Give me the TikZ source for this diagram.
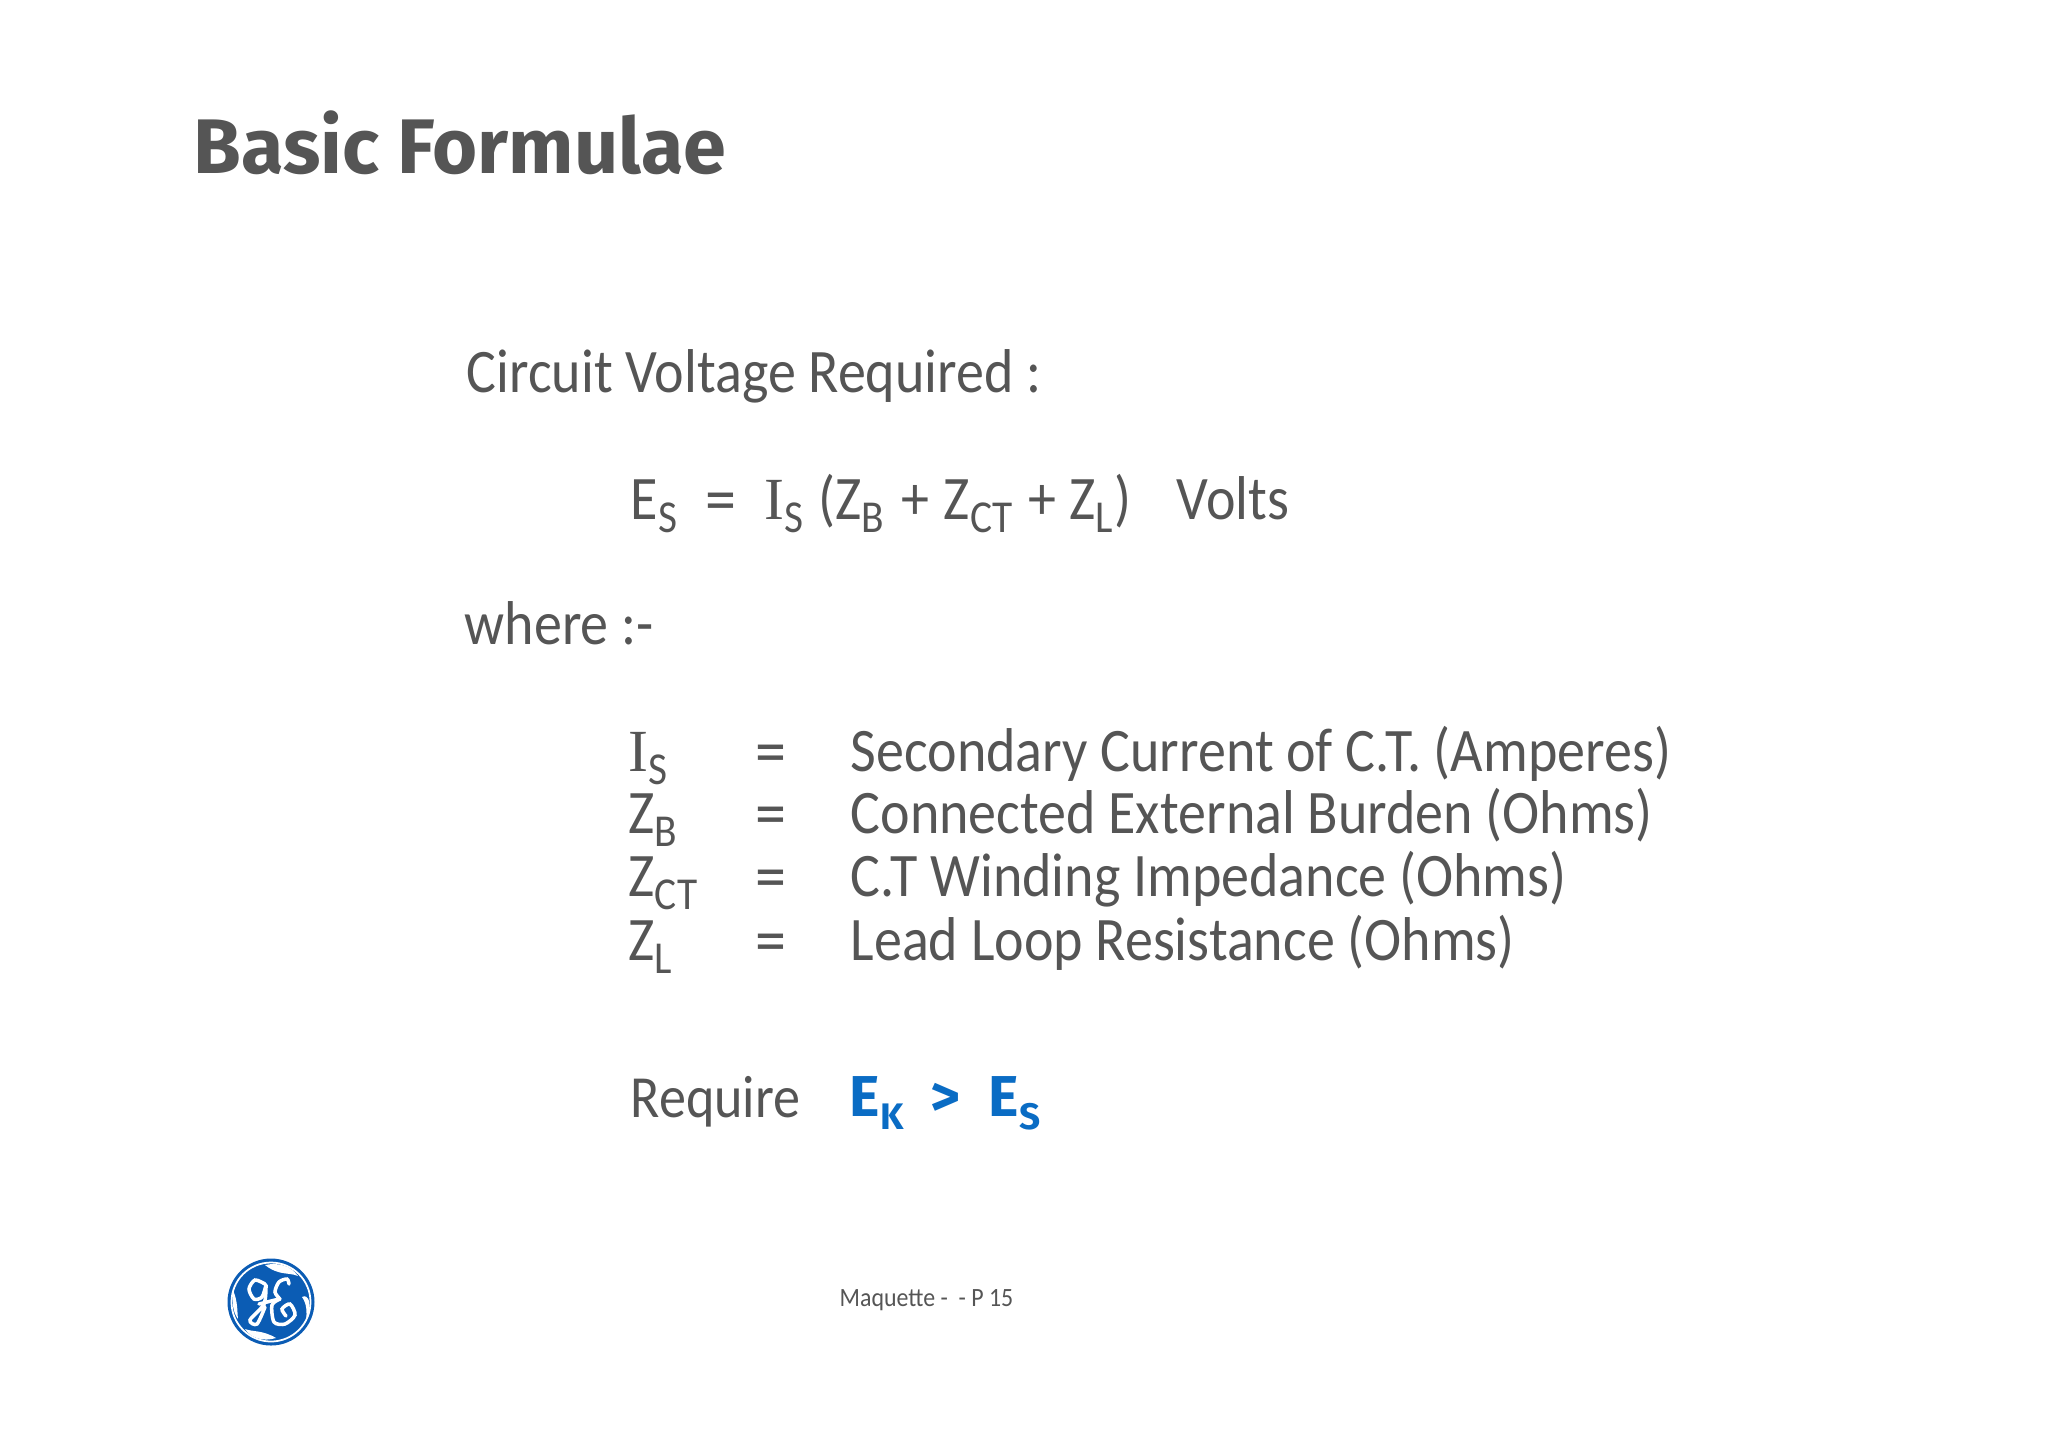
\documentclass[tikz,border=0pt]{standalone}
\usepackage{fontspec}
\setmainfont[FakeStretch=0.905]{Carlito}
\newfontfamily\titlefont{Fira Sans}
\newfontfamily\serifI{Liberation Serif}
\definecolor{slate}{HTML}{555555}
\definecolor{geblue}{HTML}{0A6CC4}
\definecolor{logoblue}{HTML}{0B5CB4}
\newcommand{\lowtext}[1]{\raisebox{-3.7pt}{\fontsize{13}{13}\selectfont #1}}
\newcommand{\lowbold}[1]{\raisebox{-3.7pt}{\fontsize{10.5}{10.5}\selectfont #1}}
\newcommand{\serifcur}{{\serifI\fontsize{17}{17}\selectfont I}}
\begin{document}
\begin{tikzpicture}[x = 0.01cm, y = -0.01cm,
        line/.style = {anchor = base west, inner sep = 0pt, text = slate, font = \fontsize{17.6}{17.6}\selectfont},
        equals/.style = {line, font = \fontsize{19.5}{19.5}\selectfont},
        title/.style = {anchor = base west, inner sep = 0pt, text = slate, font = \titlefont\bfseries\fontsize{22}{22}\selectfont},
        result/.style = {anchor = base west, inner sep = 0pt, text = geblue, font = \titlefont\bfseries\fontsize{16.4}{16.4}\selectfont},
        swoosh/.style = {fill = white, draw = none},
        script/.style = {draw = white, line width = 1pt, line cap = round}]
    \useasboundingbox (0, 0) rectangle (2048, 1447);
    \node[title] (heading) at (193, 173) {Basic Formulae};
    \node[line] (circuit) at (466, 392) {Circuit Voltage Required :};
    \node[line] (es) at (630, 519) {E\lowtext{S}};
    \node[equals] (eq) at (705, 522) {=};
    \node[line] (is) at (764, 519) {\serifcur\lowtext{S}};
    \node[line] (bracket) at (818, 519) {(Z\lowtext{B}\hspace{1.2pt} + \hspace{0.6pt}Z\lowtext{CT}\hspace{0.8pt} + \hspace{0.2pt}Z\lowtext{L}\hspace{0.4pt})};
    \node[line] (volts) at (1176, 519) {Volts};
    \node[line] (where) at (464, 644) {where :-};
    % definitions
    \foreach \name/\sym/\rowy/\what in {isdef/{\serifcur\lowtext{S}}/771/{Secondary Current of C.T. (Amperes)},
            zb/{Z\lowtext{B}}/833/{Connected External Burden (Ohms)},
            zct/{Z\lowtext{CT}}/896/{C.T Winding Impedance (Ohms)},
            zl/{Z\lowtext{L}}/960/{Lead Loop Resistance (Ohms)}}{
        \node[line] (\name) at (628, \rowy) {\sym};
        \node[equals] (\name eq) at (755, \rowy + 3) {=};
        \node[line] (\name text) at (850, \rowy) {\what};
    }
    \node[line, font = \fontsize{17}{17}\selectfont] (require) at (630, 1117) {Require};
    \node[result] (ek) at (849, 1116) {E\lowbold{K}};
    \node[result] (gt) at (930, 1116) {>};
    \node[result] (esb) at (988, 1116) {E\lowbold{S}};
    \node[line, font = \fontsize{7.5}{7.5}\selectfont] (footer) at (839, 1306) {Maquette - ~- P 15};
    % logo
    \begin{scope}[shift = {(271, 1302)}]
        \fill[logoblue] (0, 0) circle (43.5);
        \draw[white, line width = 0.5pt] (0, 0) circle (39.5);
        \fill[swoosh] (-6, -37) .. controls (8, -40) and (20, -36) .. (27, -26) .. controls (18, -30) and (8, -26) .. (-6, -37);
        \fill[swoosh] (5, 36) .. controls (-8, 40) and (-20, 36) .. (-26, 27) .. controls (-18, 30) and (-8, 28) .. (5, 36);
        \fill[swoosh] (-38, -12) .. controls (-39, 2) and (-38, 10) .. (-33, 17) .. controls (-34, 8) and (-33, 0) .. (-38, -12);
        \fill[swoosh] (31, -5) .. controls (34, -7) and (37, -5) .. (38, -1) .. controls (39, 6) and (38, 14) .. (35, 19) .. controls (36, 10) and (36, 2) .. (31, -5);
        % script G
        \draw[script] plot[smooth] coordinates {(-6, -18) (-16, -22) (-22, -13) (-17, -3) (-9, -5) (-5, -17)};
        \draw[script] plot[smooth] coordinates {(-5, -17) (-7, 2) (-21, 18) (-14, 22) (-6, 5)};
        \draw[script] (-12, 2) -- (8, -3);
        % script E
        \draw[script] plot[smooth] coordinates {(18, -18) (16, -23) (8, -20) (4, -10) (9, -3)};
        \draw[script] plot[smooth] coordinates {(9, -3) (1, 3) (3, 20) (14, 22) (24, 13) (19, 2) (11, 7) (15, 14)};
    \end{scope}
\end{tikzpicture}
\end{document}
